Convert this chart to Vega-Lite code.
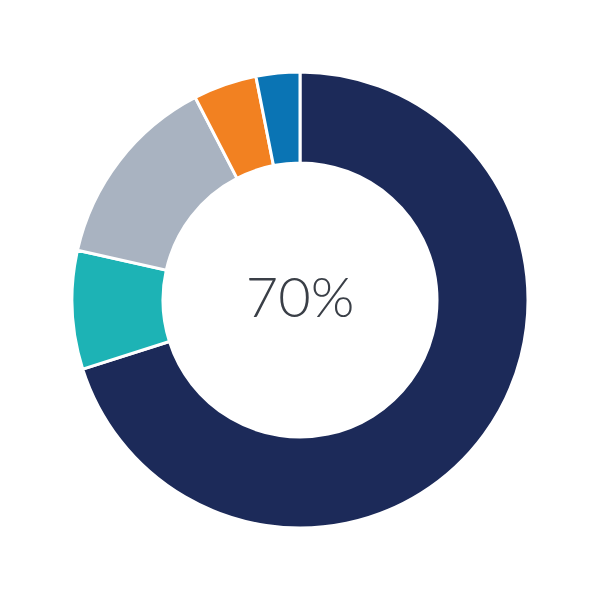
{
  "$schema": "https://vega.github.io/schema/vega-lite/v6.json",
  "autosize": {"type": "fit", "contains": "padding"},
  "width": 600,
  "height": 600,
  "padding": 0,
  "background": "white",
  "config": {"view": {"stroke": null}},
  "layer": [
    {
      "data": {
        "values": [
          {"category": "A", "order": 1, "value": 70.1},
          {"category": "B", "order": 2, "value": 8.4},
          {"category": "C", "order": 3, "value": 13.9},
          {"category": "D", "order": 4, "value": 4.5},
          {"category": "E", "order": 5, "value": 3.1}
        ]
      },
      "mark": {"type": "arc", "outerRadius": 228, "innerRadius": 137, "stroke": "white", "strokeWidth": 3},
      "encoding": {
        "theta": {"field": "value", "type": "quantitative", "stack": true},
        "order": {"field": "order"},
        "color": {
          "field": "category",
          "type": "nominal",
          "scale": {
            "domain": ["A", "B", "C", "D", "E"],
            "range": ["#1c2a59", "#1db3b5", "#a9b3c1", "#f28121", "#0a74b4"]
          },
          "legend": null
        }
      }
    },
    {
      "data": {"values": [{"label": "70%"}]},
      "mark": {"type": "text", "font": "Lato", "fontSize": 56, "fontWeight": 300, "color": "#3a3f47", "baseline": "middle", "align": "center"},
      "encoding": {"text": {"field": "label"}}
    }
  ]
}
